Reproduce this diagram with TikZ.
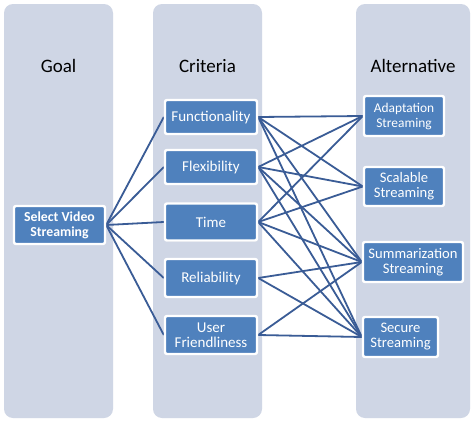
\documentclass[tikz,border=0pt]{standalone}
\usepackage{fontspec}
\setmainfont{Carlito}
\usetikzlibrary{shadows}
\definecolor{panel}{HTML}{CFD6E5}
\definecolor{boxfill}{HTML}{4F81BD}
\definecolor{edge}{HTML}{3A5C96}
\pgfdeclarelayer{bg}
\pgfdeclarelayer{lines}
\pgfsetlayers{bg,lines,main}
\tikzset{
  panelbox/.style={fill=panel, draw=none, rounded corners=9pt},
  hnode/.style={fill=boxfill, draw=white, line width=2.4pt, rounded corners=2pt,
     text=white, align=center, inner sep=0pt,
     drop shadow={shadow xshift=0.8pt, shadow yshift=-0.8pt, opacity=0.35}},
  title/.style={font=\fontsize{19}{22}\selectfont, text=black},
  link/.style={draw=edge, line width=1.8pt},
}
\begin{document}
\begin{tikzpicture}[x=1pt,y=-1pt]
\useasboundingbox (0,0) rectangle (474,423);
\begin{pgfonlayer}{bg}
\fill[white] (0,0) rectangle (474,423);
\path[panelbox] (4,4) rectangle (113,418);
\path[panelbox] (153,4) rectangle (262,418);
\path[panelbox] (356,4) rectangle (470,418);
\end{pgfonlayer}
\node[title] (tg) at (58.5,66) {Goal};
\node[title] (tc) at (207.5,66) {Criteria};
\node[title] (ta) at (413,66) {Alternative};

\node[hnode, minimum width=91pt, minimum height=38pt, font=\fontsize{13.8}{15}\selectfont\bfseries] (goal) at (59.5,225) {Select Video\\Streaming};

\node[hnode, minimum width=92pt, minimum height=34pt, font=\fontsize{15}{15}\selectfont] (func) at (211,117) {Functionality};
\node[hnode, minimum width=92pt, minimum height=34pt, font=\fontsize{15}{15}\selectfont] (flex) at (211,167) {Flexibility};
\node[hnode, minimum width=92pt, minimum height=37pt, font=\fontsize{15}{15}\selectfont] (time) at (211,222) {Time};
\node[hnode, minimum width=92pt, minimum height=38pt, font=\fontsize{15}{15}\selectfont] (rel) at (211,278) {Reliability};
\node[hnode, minimum width=92pt, minimum height=38pt, font=\fontsize{15}{15}\selectfont] (uf) at (211,335) {User\\Friendliness};

\node[hnode, minimum width=80pt, minimum height=40pt, font=\fontsize{13.4}{15}\selectfont] (adapt) at (404,116) {Adaptation\\Streaming};
\node[hnode, minimum width=80pt, minimum height=39pt, font=\fontsize{14.6}{15}\selectfont] (scal) at (404,186.5) {Scalable\\Streaming};
\node[hnode, minimum width=100pt, minimum height=40pt, font=\fontsize{14.6}{15}\selectfont] (summ) at (413,262) {Summarization\\Streaming};
\node[hnode, minimum width=75pt, minimum height=40pt, font=\fontsize{14.6}{15}\selectfont] (sec) at (400.5,337) {Secure\\Streaming};

\begin{pgfonlayer}{lines}
\foreach \c in {func,flex,time,rel,uf}
  \draw[link] (goal.east) -- (\c.west);
\foreach \c in {func,flex,time}
  \foreach \a in {adapt,scal,summ,sec}
    \draw[link] (\c.east) -- (\a.west);
\foreach \c in {rel,uf}
  \foreach \a in {summ,sec}
    \draw[link] (\c.east) -- (\a.west);
\end{pgfonlayer}
\end{tikzpicture}
\end{document}
